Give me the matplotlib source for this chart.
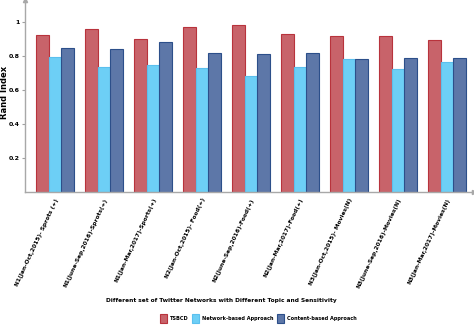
import numpy as np
import matplotlib.pyplot as plt

networks = ["N1(Jan-Oct,2015)- Sprots (+)", "N1(June-Sep,2016)-Sprots(+)",
            "N1(Jan-Mar,2017)-Sports(+)", "N2(Jan-Oct,2015)- Food(+)",
            "N2(June-Sep,2016)-Food(+)", "N2(Jan-Mar,2017)-Food(+)",
            "N3(Jan-Oct,2015)- Movies(N)", "N3(June-Sep,2016)-Movies(N)",
            "N3(Jan-Mar,2017)-Movies(N)"]
tsbcd = [0.925, 0.957, 0.898, 0.970, 0.980, 0.928, 0.921, 0.917, 0.895]
network_based = [0.795, 0.734, 0.747, 0.730, 0.685, 0.735, 0.783, 0.724, 0.765]
content_based = [0.848, 0.842, 0.884, 0.820, 0.815, 0.820, 0.783, 0.789, 0.789]
series_names = ["TSBCD", "Network-based Approach", "Content-based Approach"]

fig = plt.figure(figsize=(4.74, 3.35), dpi=100)
ax = fig.add_axes([0.053, 0.427, 0.947, 0.573])

x = np.arange(len(networks))
w = 0.255
ax.bar(x - w, tsbcd, w, color="#C8636A", edgecolor="#B8333C", linewidth=0.8, label=series_names[0])
ax.bar(x, network_based, w, color="#6DCFF6", edgecolor="#5BC0EE", linewidth=0.8, label=series_names[1])
ax.bar(x + w, content_based, w, color="#5D77A8", edgecolor="#2C4F8A", linewidth=0.8, label=series_names[2])

ax.set_xlim(-0.61, 8.55)
ax.set_ylim(0, 1.13)
ax.set_yticks([0.2, 0.4, 0.6, 0.8, 1.0])
ax.set_yticklabels(["0.2", "0.4", "0.6", "0.8", "1"], fontsize=4.5, fontweight="bold")
ax.set_xticks(x)
ax.set_xticklabels(networks, rotation=65, ha="right", rotation_mode="anchor",
                   fontsize=4.2, fontweight="bold")
ax.tick_params(axis="y", length=2, color="#A0A0A0", pad=2)
ax.tick_params(axis="x", length=0, pad=4)

for s in ["top", "right"]:
    ax.spines[s].set_visible(False)
for s in ["left", "bottom"]:
    ax.spines[s].set_color("#A8A8A8")
    ax.spines[s].set_linewidth(1.0)
ax.plot(1, 0, ">", color="#A8A8A8", ms=3, transform=ax.transAxes, clip_on=False)
ax.plot(0, 1, "^", color="#A8A8A8", ms=3, transform=ax.transAxes, clip_on=False)

ax.set_ylabel("Rand Index", fontsize=6, fontweight="bold")
ax.yaxis.set_label_coords(-0.036, 0.52)
fig.text(0.468, 0.103, "Different set of Twitter Networks with Different Topic and Sensitivity",
         fontsize=4.2, fontweight="bold", ha="center", va="center")

fig.legend(loc="center", bbox_to_anchor=(0.545, 0.048), ncol=3, frameon=False,
           prop={"size": 3.6, "weight": "bold"}, handlelength=1.5, handleheight=2.4,
           columnspacing=0.6, handletextpad=0.6)

fig.savefig("out.png", dpi=100)
